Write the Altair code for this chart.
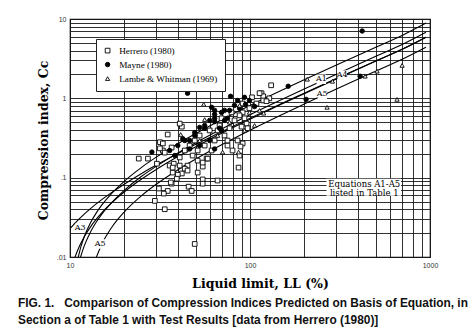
import altair as alt
import pandas as pd

# ---------------- data ----------------
herrero_ll = [41.8, 34.9, 24.1, 27.1, 40.7, 31.6, 32.8, 32.8, 35.8, 37.7, 40.7, 41.8, 36.7, 31.2, 34.9, 33.2,
              29.6, 33.6, 45.0, 43.4, 45.6, 47.4, 51.2, 54.6, 54.6, 54.6, 66.0, 57.4, 36.3, 49.3, 37.2, 39.7,
              86.4, 80.0, 91.0, 88.6, 131, 102.6, 115.9, 118.5, 118.5, 128, 123.5, 108.6, 99.3, 91.0, 93.2,
              95.7, 97.0, 89.8, 91.0, 113, 30.4, 49.3, 52.5, 56.0, 59.7, 63.6, 67.8, 72.2, 77.0, 82.0, 85.3,
              75.0, 61.2, 51.2, 46.2, 43.4, 69.5, 79.0, 87.5, 66.1,
              31.6, 33.6, 36.7, 40.7, 48.0, 51.2, 54.6, 58.2, 87.5, 75.0, 37.2, 45.0, 39.2]
herrero_cc = [0.44, 0.35, 0.174, 0.174, 0.48, 0.28, 0.27, 0.22, 0.142, 0.15, 0.142, 0.113, 0.084, 0.073, 0.068,
              0.063, 0.051, 0.040, 0.142, 0.13, 0.077, 0.068, 0.116, 0.138, 0.095, 0.084, 0.092, 0.174, 0.087,
              0.0146, 0.116, 0.109, 0.134, 0.22, 0.27, 0.247, 1.46, 1.03, 1.16, 1.06, 0.94, 1.0, 0.92, 0.86,
              0.75, 0.86, 0.56, 0.48, 0.42, 0.44, 0.665, 1.16, 0.15, 0.294, 0.34, 0.254, 0.394, 0.294, 0.455,
              0.34, 0.42, 0.527, 0.294, 0.254, 0.22, 0.22, 0.254, 0.22, 0.56, 0.665, 0.61, 0.394,
              0.234, 0.207, 0.24, 0.18, 0.19, 0.164, 0.155, 0.174, 0.19, 0.294, 0.134, 0.123, 0.097]

mayne_ll = [45.0, 78.0, 163, 409, 205, 420, 93.2, 61.2, 63.6, 63.6, 63.6, 63.6, 72.2, 69.5, 77.0, 52.5, 42.3,
            28.5, 106, 63.6, 56.0, 59.7, 72.2, 82.0, 87.5, 75.0, 49.3, 46.2, 67.8, 85.3, 94.5, 99.3,
            35.8, 39.7, 43.4, 49.3, 56.0, 38.2, 46.2, 52.5, 59.7, 69.5]
mayne_cc = [1.16, 1.06, 1.42, 1.90, 0.97, 7.06, 1.03, 0.77, 0.705, 0.63, 0.56, 0.51, 0.705, 0.665, 0.705, 0.43,
            0.31, 0.21, 0.79, 0.23, 0.455, 0.527, 0.527, 0.815, 0.75, 0.56, 0.37, 0.294, 0.42, 0.94, 0.84, 0.94,
            0.22, 0.254, 0.294, 0.34, 0.42, 0.19, 0.23, 0.254, 0.294, 0.394]

lambe_ll = [55.3, 56.0, 208, 287, 436, 508, 700, 656, 268, 119, 41.2, 70.4, 86.4, 99.3, 106, 77.0, 66.1, 93.2,
            113, 52.5, 87.5]
lambe_cc = [0.84, 0.54, 1.74, 1.64, 1.9, 2.2, 2.6, 0.97, 0.77, 0.65, 0.35, 0.21, 0.21, 0.665, 0.455, 0.50, 0.34,
            0.394, 0.705, 0.294, 0.815]

series_names = ["Herrero (1980)", "Mayne (1980)", "Lambe & Whitman (1969)"]

# equation curves (traced)
curve1_ll = [11.0, 11.5, 12, 13, 14, 15, 17, 20, 25, 30, 40, 50, 70, 100, 150, 200, 300, 500, 700, 950]
curve1_cc = [0.009, 0.0135, 0.018, 0.027, 0.036, 0.045, 0.063, 0.09, 0.135, 0.18, 0.27, 0.36, 0.54, 0.81, 1.26,
             1.71, 2.61, 4.41, 6.21, 8.9]
curve2_ll = [11.4, 12, 13, 14, 15, 17, 20, 25, 30, 40, 50, 70, 100, 150, 200, 300, 500, 700, 950]
curve2_cc = [0.0097, 0.0138, 0.0207, 0.0276, 0.0345, 0.048, 0.069, 0.104, 0.138, 0.207, 0.276, 0.414, 0.621,
             0.966, 1.31, 2.0, 3.38, 4.76, 6.8]
curve3_ll = [10.6, 11, 12, 13, 14, 15, 17, 20, 25, 30, 40, 50, 70, 100, 150, 200, 300, 500, 700, 950]
curve3_cc = [0.0096, 0.012, 0.018, 0.024, 0.03, 0.036, 0.048, 0.066, 0.096, 0.126, 0.186, 0.246, 0.366, 0.546,
             0.846, 1.146, 1.746, 2.95, 4.15, 5.9]
curve4_ll = [14, 15, 17, 20, 25, 30, 40, 50, 70, 100, 150, 200, 300, 500, 700, 950]
curve4_cc = [0.0099, 0.0144, 0.0234, 0.0369, 0.0594, 0.0819, 0.127, 0.172, 0.262, 0.397, 0.622, 0.847, 1.30,
             2.20, 3.10, 4.4]
curve5_ll = [10, 11, 12, 13, 15, 17, 20, 25, 30, 40, 50, 70, 100, 150, 200, 300, 500, 700, 950]
curve5_cc = [0.0228, 0.0288, 0.0348, 0.0408, 0.0528, 0.0648, 0.0828, 0.113, 0.143, 0.203, 0.263, 0.383, 0.563,
             0.863, 1.16, 1.76, 2.96, 4.16, 5.9]

label_text = ["A1", "A4", "A5", "A3", "A5"]
label_ll = [249, 325, 252, 11.4, 14.7]
label_cc = [1.74, 1.96, 1.12, 0.0233, 0.0146]

note_lines = ["Equations A1-A5", "listed in Table 1"]
note_ll = [431, 431]
note_cc = [0.084, 0.065]
note_box_ll = [266, 690]
note_box_cc = [0.059, 0.097]

x_grid = [10, 20, 30, 40, 50, 60, 70, 80, 90, 100, 200, 300, 400, 500, 600, 700, 800, 900, 1000]
y_grid = [0.01, 0.02, 0.03, 0.04, 0.05, 0.06, 0.07, 0.08, 0.09, 0.1, 0.2, 0.3, 0.4, 0.5, 0.6, 0.7, 0.8, 0.9,
          1, 2, 3, 4, 5, 6, 7, 8, 9, 10]

NB = "\u00a0"
caption1 = "FIG. 1." + NB * 3 + "Comparison of Compression Indices Predicted on Basis of Equation, in"
caption2 = "Section a of Table 1 with Test Results [data from Herrero (1980)]"

# ---------------- tables ----------------
pts = pd.concat([
    pd.DataFrame({"LL": herrero_ll, "Cc": herrero_cc, "series": series_names[0]}),
    pd.DataFrame({"LL": mayne_ll, "Cc": mayne_cc, "series": series_names[1]}),
    pd.DataFrame({"LL": lambe_ll, "Cc": lambe_cc, "series": series_names[2]}),
], ignore_index=True)

curves = pd.concat([
    pd.DataFrame({"LL": l, "Cc": c, "curve": n})
    for l, c, n in [(curve1_ll, curve1_cc, "c1"), (curve2_ll, curve2_cc, "c2"), (curve3_ll, curve3_cc, "c3"),
                    (curve4_ll, curve4_cc, "c4"), (curve5_ll, curve5_cc, "c5")]
], ignore_index=True)

labels = pd.DataFrame({"LL": label_ll, "Cc": label_cc, "t": label_text})
notes = pd.DataFrame({"LL": note_ll, "Cc": note_cc, "t": note_lines})
note_box = pd.DataFrame({"LL": [note_box_ll[0]], "LL2": [note_box_ll[1]],
                         "Cc": [note_box_cc[0]], "Cc2": [note_box_cc[1]]})

serif = "DejaVu Serif"
sans = "Liberation Sans"

xscale = alt.Scale(type="log", domain=[10, 1000], nice=False)
yscale = alt.Scale(type="log", domain=[0.01, 10], nice=False)

x_label_expr = "(datum.value == 10 || datum.value == 100 || datum.value == 1000) ? datum.value : ''"
y_label_expr = ("datum.value == 10 ? '10' : datum.value == 1 ? '1' : abs(datum.value - 0.1) < 1e-9 ? '.1' : "
                "abs(datum.value - 0.01) < 1e-9 ? '.01' : ''")

X = alt.X("LL:Q", scale=xscale, axis=alt.Axis(
    values=x_grid, grid=True, ticks=False, labelExpr=x_label_expr, labelFont=sans, labelFontSize=7,
    labelColor="#333", labelPadding=4, domain=False, labelFlush=False, labelOverlap=False,
    title="Liquid limit, LL (%)", titleFont=serif, titleFontSize=12.5, titleFontWeight="bold",
    titleX=190, titleY=30, titleBaseline="alphabetic", titleAlign="center"))
Y = alt.Y("Cc:Q", scale=yscale, axis=alt.Axis(
    values=y_grid, grid=True, ticks=False, labelExpr=y_label_expr, labelFont=sans, labelFontSize=7,
    labelColor="#333", labelPadding=4, domain=False, labelFlush=False, labelOverlap=False,
    title="Compression index, Cc", titleFont=serif, titleFontSize=12.5, titleFontWeight="bold",
    titleX=-23, titleY=121, titleBaseline="alphabetic", titleAlign="center", titleAngle=-90))

curve_layer = alt.Chart(curves).mark_line(color="black", strokeWidth=1.1, interpolate="monotone", clip=True).encode(
    x=X, y=Y, detail="curve:N")

label_bg = alt.Chart(labels).mark_point(shape="square", filled=True, color="white", size=90, opacity=1).encode(
    x=alt.X("LL:Q", scale=xscale), y=alt.Y("Cc:Q", scale=yscale))
label_layer = alt.Chart(labels).mark_text(font=serif, fontSize=8, color="black").encode(
    x=alt.X("LL:Q", scale=xscale), y=alt.Y("Cc:Q", scale=yscale), text="t:N")

box_layer = alt.Chart(note_box).mark_rect(fill="white").encode(
    x=alt.X("LL:Q", scale=xscale), x2="LL2:Q", y=alt.Y("Cc:Q", scale=yscale), y2="Cc2:Q")
note_layer = alt.Chart(notes).mark_text(font=serif, fontSize=8.5, color="black").encode(
    x=alt.X("LL:Q", scale=xscale), y=alt.Y("Cc:Q", scale=yscale), text="t:N")

legend = alt.Legend(title=None, orient="none", legendX=26, legendY=20, fillColor="white", strokeColor="#222",
                    padding=7, labelFont="Liberation Serif", labelFontSize=9.2,
                    rowPadding=4, labelOffset=7, labelColor="black", symbolStrokeWidth=0.9)

point_layer = alt.Chart(pts).mark_point(filled=True, strokeWidth=0.9, opacity=1).encode(
    x=alt.X("LL:Q", scale=xscale), y=alt.Y("Cc:Q", scale=yscale),
    shape=alt.Shape("series:N", scale=alt.Scale(domain=series_names, range=["square", "circle", "triangle-up"]),
                    legend=legend),
    fill=alt.Fill("series:N", scale=alt.Scale(domain=series_names, range=["white", "black", "white"]),
                  legend=legend),
    stroke=alt.Stroke("series:N", scale=alt.Scale(domain=series_names, range=["black", "black", "black"]),
                      legend=legend),
    size=alt.Size("series:N", scale=alt.Scale(domain=series_names, range=[22, 18, 30]), legend=legend),
)

cap1 = alt.Chart(pd.DataFrame({"t": [caption1]})).mark_text(
    font=sans, fontSize=11.9, fontWeight="bold", align="left", baseline="alphabetic", color="#111").encode(
    x=alt.value(-52), y=alt.value(288), text="t:N")
cap2 = alt.Chart(pd.DataFrame({"t": [caption2]})).mark_text(
    font=sans, fontSize=11.9, fontWeight="bold", align="left", baseline="alphabetic", color="#111").encode(
    x=alt.value(-52), y=alt.value(305), text="t:N")

chart = alt.layer(curve_layer, label_bg, label_layer, box_layer, note_layer, point_layer, cap1, cap2).properties(
    width=360, height=238,
    autosize=alt.AutoSizeParams(type="none"),
    padding={"left": 70, "top": 19, "right": 44, "bottom": 77},
    background="white",
).configure_view(stroke="black", strokeWidth=1.2).configure_axis(
    gridColor="#1a1a1a", gridWidth=0.9, gridOpacity=1
)

chart.save("out.html", embed_options={"renderer": "svg", "actions": False})
